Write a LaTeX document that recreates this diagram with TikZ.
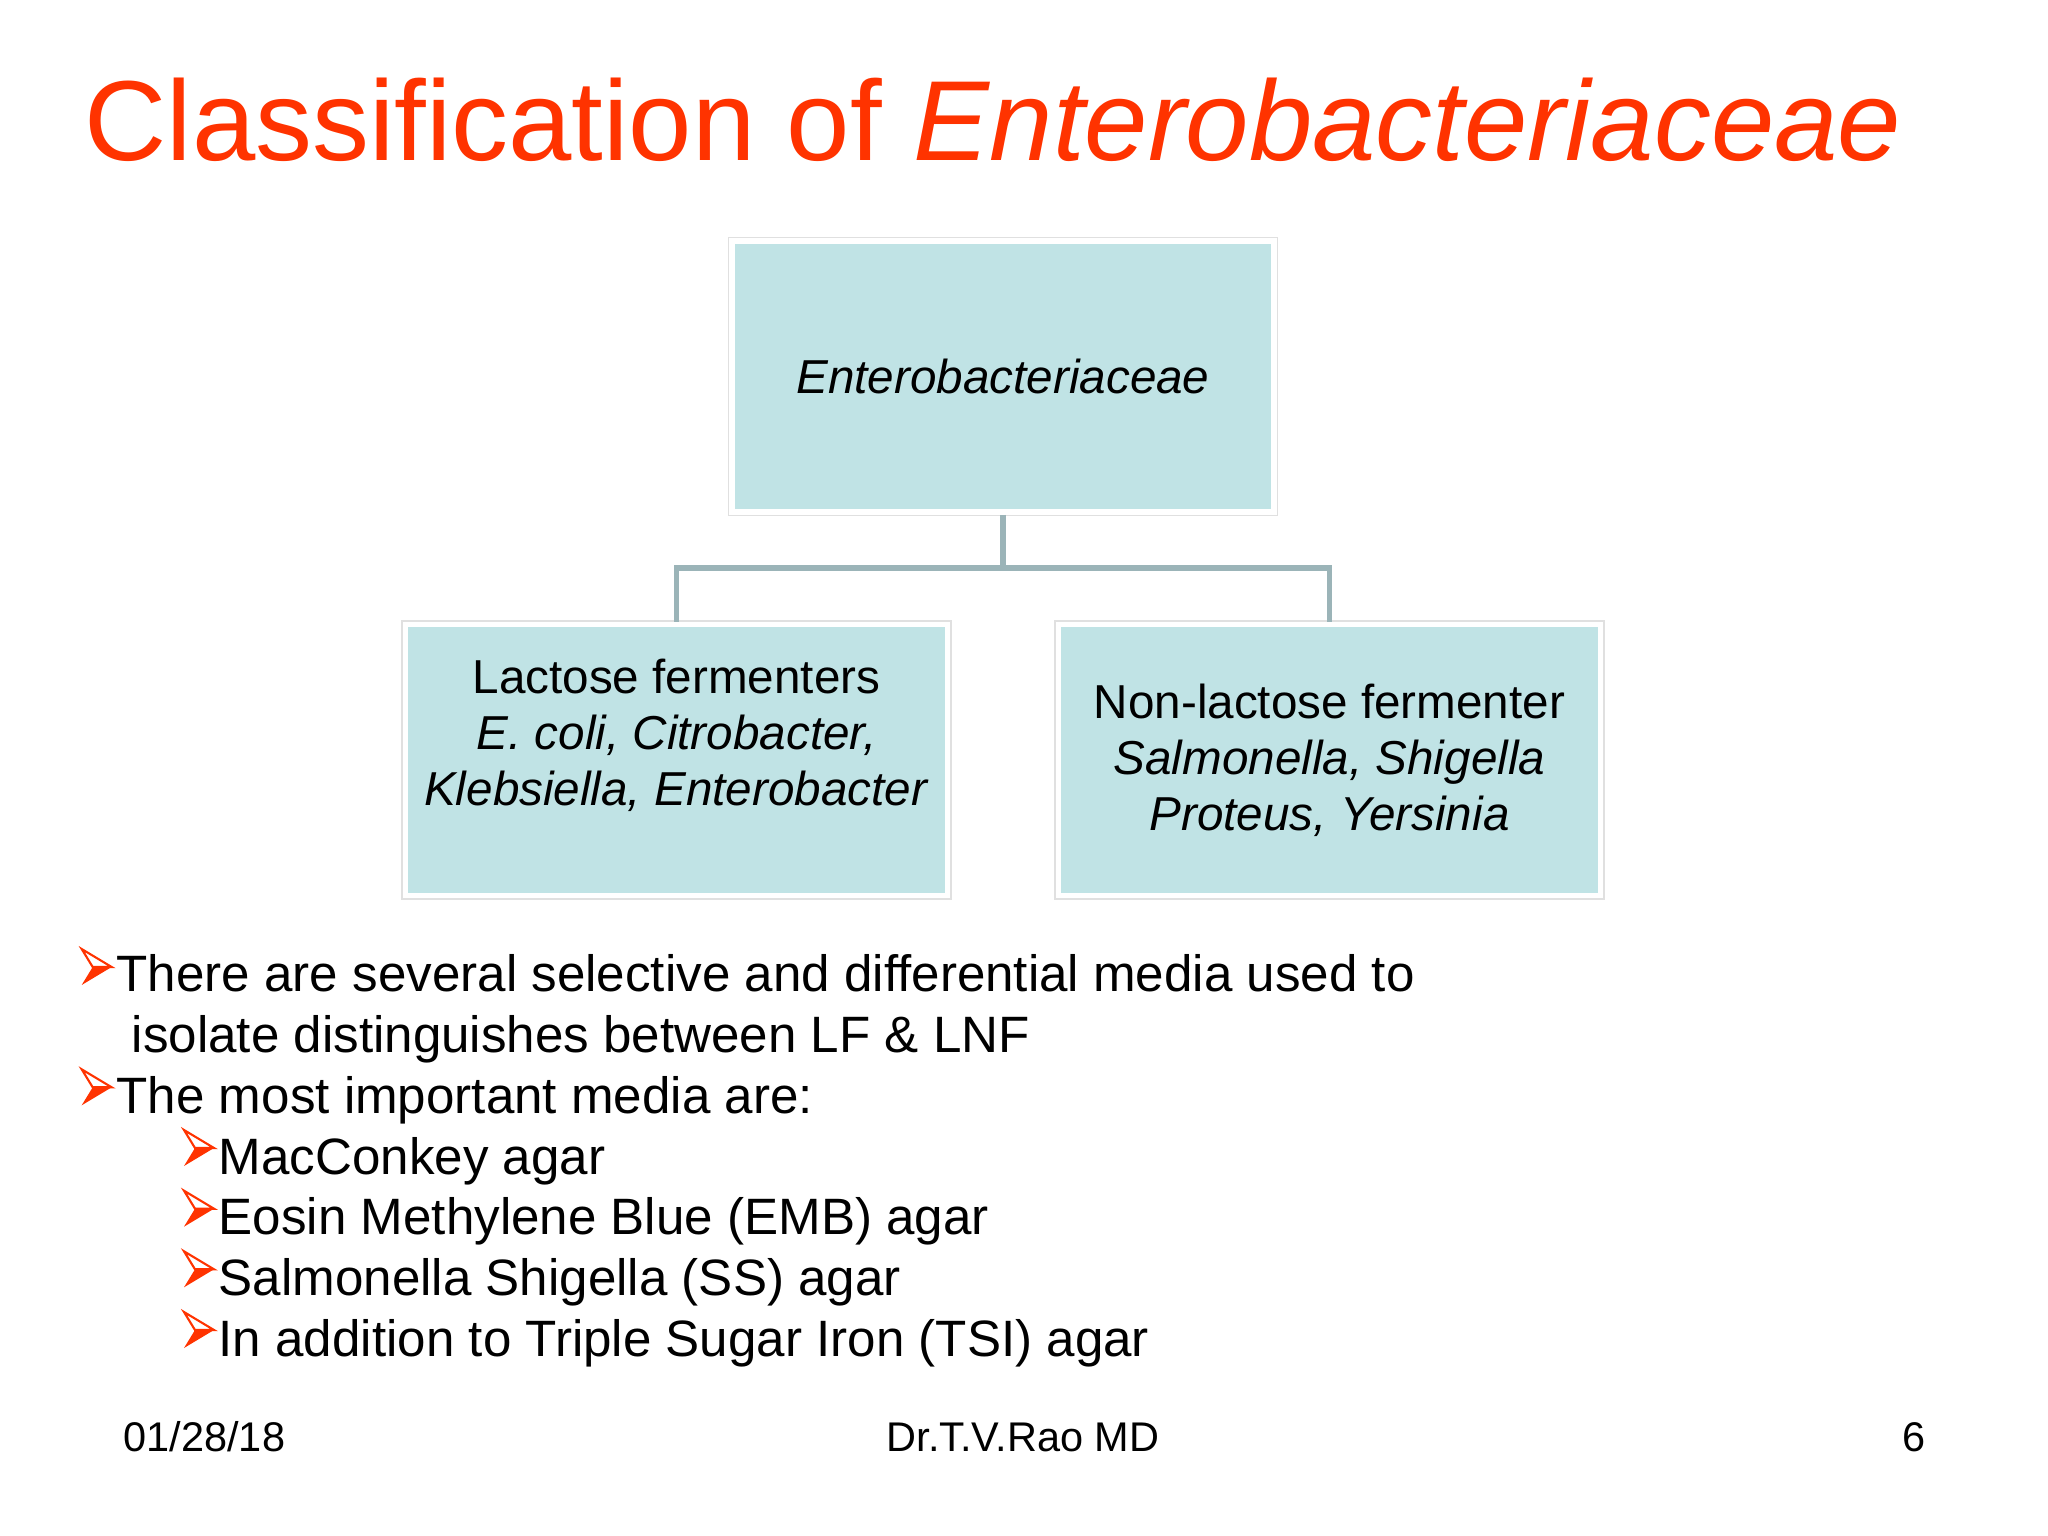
\documentclass[tikz,border=0pt]{standalone}
\usepackage{fontspec}
\setmainfont{Liberation Sans}
\usetikzlibrary{positioning}
\definecolor{SlideRed}{HTML}{FF3300}
\definecolor{BoxTeal}{HTML}{C0E3E5}
\definecolor{LinkGrey}{HTML}{9BB4B8}
\definecolor{EdgeGrey}{HTML}{E0E0E0}

\tikzset{
  pointer/.pic={
    \fill[SlideRed] (0,0) -- (-0.30,-0.18) -- (-0.19,0) -- cycle;
    \filldraw[draw=SlideRed, fill=white, line width=0.6pt, line join=miter] (0,0) -- (-0.30,0.18) -- (-0.19,0) -- cycle;
  }
}

\begin{document}
\begin{tikzpicture}[
    taxon/.style={fill=BoxTeal, draw=white, line width=1.7pt, preaction={draw=EdgeGrey, line width=2.3pt}, minimum width=5.42cm, minimum height=2.71cm, inner sep=0pt, align=center, font=\fontsize{13.55}{15.9}\selectfont},
    branch/.style={draw=LinkGrey, line width=1.5pt},
    bullettext/.style={anchor=base west, inner sep=0pt, font=\fontsize{14.55}{17.3}\selectfont},
    foot/.style={anchor=base, inner sep=0pt, font=\fontsize{11.8}{14}\selectfont}
  ]
    \useasboundingbox[fill=white] (0,0) rectangle (20.48,-15.36);

    \node[anchor=base west, inner sep=0pt, text=SlideRed, font=\fontsize{32.4}{40}\selectfont] (title) at (0.84,-1.61) {Classification of \textit{Enterobacteriaceae}};

    % tree
    \node[taxon] (root) at (10.03,-3.765) {\textit{Enterobacteriaceae}};
    \node[taxon] (lf) at (6.765,-7.60) {Lactose fermenters\\ \textit{E. coli, Citrobacter,}\\ \textit{Klebsiella, Enterobacter}\\ \mbox{}};
    \node[taxon] (nlf) at (13.295,-7.60) {Non-lactose fermenter\\ \textit{Salmonella, Shigella}\\ \textit{Proteus, Yersinia}};

    \draw[branch] (root.south) -- ++(0,-0.53) coordinate (fork) -| (lf.north);
    \draw[branch] (fork) -| (nlf.north);

    % bullets
    \pic at (1.117,-9.67) {pointer};
    \node[bullettext] (p1) at (1.16,-9.92) {There are several selective and differential media used to};
    \node[bullettext] (p1b) at (1.31,-10.527) {isolate distinguishes between LF \& LNF};
    \pic at (1.117,-10.873) {pointer};
    \node[bullettext] (p2) at (1.16,-11.133) {The most important media are:};

    \pic at (2.14,-11.48) {pointer};
    \node[bullettext] (m1) at (2.18,-11.74) {MacConkey agar};
    \pic at (2.14,-12.087) {pointer};
    \node[bullettext] (m2) at (2.18,-12.347) {Eosin Methylene Blue (EMB) agar};
    \pic at (2.14,-12.693) {pointer};
    \node[bullettext] (m3) at (2.18,-12.953) {Salmonella Shigella (SS) agar};
    \pic at (2.14,-13.30) {pointer};
    \node[bullettext] (m4) at (2.18,-13.56) {In addition to Triple Sugar Iron (TSI) agar};

    % footer
    \node[foot, anchor=base west] (date) at (1.23,-14.51) {01/28/18};
    \node[foot] (author) at (10.23,-14.51) {Dr.T.V.Rao MD};
    \node[foot, anchor=base east] (page) at (19.26,-14.51) {6};
\end{tikzpicture}
\end{document}
